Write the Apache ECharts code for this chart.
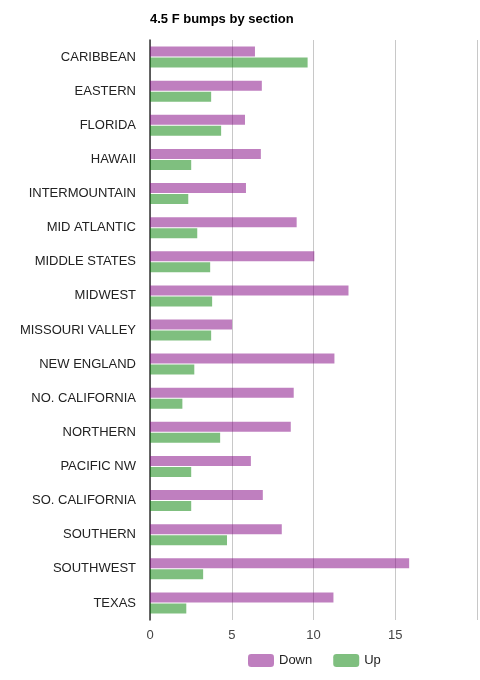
<!DOCTYPE html>
<html>
<head>
<meta charset="utf-8">
<script src="https://cdn.jsdelivr.net/npm/echarts@6/dist/echarts.min.js"></script>
<style>
html,body{margin:0;padding:0;background:#fff;}
#chart{width:480px;height:680px;}
</style>
</head>
<body>
<div id="chart"></div>
<script>
var categories = ["CARIBBEAN","EASTERN","FLORIDA","HAWAII","INTERMOUNTAIN","MID ATLANTIC","MIDDLE STATES","MIDWEST","MISSOURI VALLEY","NEW ENGLAND","NO. CALIFORNIA","NORTHERN","PACIFIC NW","SO. CALIFORNIA","SOUTHERN","SOUTHWEST","TEXAS"];
var downValues = [6.42,6.84,5.81,6.78,5.87,8.97,10.05,12.14,5.02,11.28,8.79,8.61,6.17,6.9,8.06,15.85,11.22];
var upValues = [9.64,3.74,4.35,2.52,2.34,2.89,3.68,3.8,3.74,2.71,1.98,4.29,2.52,2.52,4.71,3.25,2.22];
var xTicks = [0,5,10,15,20];

var chart = echarts.init(document.getElementById('chart'));
var font = '"Liberation Sans", Arial, sans-serif';
chart.setOption({
  animation: false,
  textStyle: {fontFamily: font},
  title: {
    text: '4.5 F bumps by section',
    left: 150, top: 13, padding: 0,
    textStyle: {fontSize: 13, fontWeight: 'bold', color: '#000', fontFamily: font}
  },
  legend: {
    bottom: 13, left: 248, padding: 0,
    itemWidth: 26, itemHeight: 13, itemGap: 21,
    textStyle: {fontSize: 13, color: '#222', fontFamily: font},
    data: ['Down','Up']
  },
  grid: {left: 150, right: 0.5, top: 40, bottom: 60, containLabel: false},
  xAxis: {
    type: 'value', min: xTicks[0], max: xTicks[xTicks.length-1], interval: 5,
    axisLine: {show: false},
    axisTick: {show: false},
    splitLine: {show: true, lineStyle: {color: '#c8c8c8', width: 1}},
    axisLabel: {
      fontSize: 13, color: '#444', margin: 9, fontFamily: font,
      formatter: function(v){ return v === 20 ? '' : String(v); }
    }
  },
  yAxis: {
    type: 'category', data: categories, inverse: true,
    axisLine: {show: true, lineStyle: {color: '#333', width: 1.5}},
    axisTick: {show: false},
    axisLabel: {fontSize: 13, color: '#222', margin: 14, fontFamily: font}
  },
  series: [
    {name: 'Down', type: 'bar', data: downValues, barWidth: 10, barGap: '10%',
     itemStyle: {color: 'rgba(128,0,128,0.5)'}},
    {name: 'Up', type: 'bar', data: upValues, barWidth: 10, barGap: '10%',
     itemStyle: {color: 'rgba(0,128,0,0.5)'}}
  ]
});
</script>
</body>
</html>
